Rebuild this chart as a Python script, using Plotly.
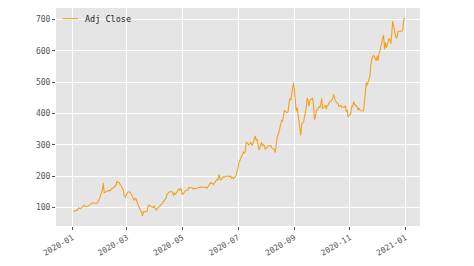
import plotly.graph_objects as go
import pandas as pd

# Trading days per month (2020) and Adj Close values
month_days = {
    1: [2, 3, 6, 7, 8, 9, 10, 13, 14, 15, 16, 17, 21, 22, 23, 24, 27, 28, 29, 30, 31],
    2: [3, 4, 5, 6, 7, 10, 11, 12, 13, 14, 18, 19, 20, 21, 24, 25, 26, 27, 28],
    3: [2, 3, 4, 5, 6, 9, 10, 11, 12, 13, 16, 17, 18, 19, 20, 23, 24, 25, 26, 27, 30, 31],
    4: [1, 2, 3, 6, 7, 8, 9, 13, 14, 15, 16, 17, 20, 21, 22, 23, 24, 27, 28, 29, 30],
    5: [1, 4, 5, 6, 7, 8, 11, 12, 13, 14, 15, 18, 19, 20, 21, 22, 26, 27, 28, 29],
    6: [1, 2, 3, 4, 5, 8, 9, 10, 11, 12, 15, 16, 17, 18, 19, 22, 23, 24, 25, 26, 29, 30],
    7: [1, 2, 6, 7, 8, 9, 10, 13, 14, 15, 16, 17, 20, 21, 22, 23, 24, 27, 28, 29, 30, 31],
    8: [3, 4, 5, 6, 7, 10, 11, 12, 13, 14, 17, 18, 19, 20, 21, 24, 25, 26, 27, 28, 31],
    9: [1, 2, 3, 4, 8, 9, 10, 11, 14, 15, 16, 17, 18, 21, 22, 23, 24, 25, 28, 29, 30],
    10: [1, 2, 5, 6, 7, 8, 9, 12, 13, 14, 15, 16, 19, 20, 21, 22, 23, 26, 27, 28, 29, 30],
    11: [2, 3, 4, 5, 6, 9, 10, 11, 12, 13, 16, 17, 18, 19, 20, 23, 24, 25, 27, 30],
    12: [1, 2, 3, 4, 7, 8, 9, 10, 11, 14, 15, 16, 17, 18, 21, 22, 23, 24, 28, 29, 30, 31],
}

month_values = {
    1: [86.05, 88.60, 90.31, 93.81, 98.43, 96.27, 95.63, 104.97, 107.58, 103.70, 102.70, 102.10,
        109.44, 113.91, 114.44, 112.96, 111.60, 113.38, 116.20, 128.16, 130.11],
    2: [156.00, 177.41, 146.94, 149.79, 149.61, 154.26, 154.88, 153.46, 160.80, 160.01, 171.68,
        183.48, 179.88, 180.20, 166.76, 159.98, 155.76, 135.80, 133.60],
    3: [148.72, 149.10, 149.90, 144.91, 140.70, 121.60, 129.07, 126.85, 112.11, 109.32, 89.01,
        86.04, 72.24, 85.53, 85.51, 86.86, 101.00, 107.85, 105.63, 102.87, 100.43, 104.80],
    4: [96.31, 90.89, 96.00, 103.25, 109.09, 109.77, 114.60, 130.19, 141.98, 145.97, 149.04,
        150.78, 149.27, 137.34, 146.42, 141.13, 145.03, 159.75, 153.82, 160.10, 156.38],
    5: [140.26, 152.24, 153.64, 156.52, 156.01, 163.88, 162.26, 161.88, 158.19, 160.67, 159.83,
        162.73, 161.60, 163.11, 165.52, 163.38, 163.77, 164.05, 161.16, 167.00],
    6: [179.62, 176.31, 176.59, 172.88, 177.13, 189.98, 188.13, 205.01, 194.57, 187.06, 198.18,
        196.43, 198.36, 200.79, 200.18, 198.86, 200.36, 192.17, 197.20, 191.95, 201.87, 215.96],
    7: [223.93, 241.73, 274.32, 277.97, 273.18, 278.86, 308.93, 299.41, 303.36, 309.20, 300.13,
        300.17, 328.60, 313.67, 318.47, 302.61, 283.40, 307.92, 295.30, 299.82, 297.50, 286.15],
    8: [297.00, 297.40, 297.00, 297.92, 290.54, 283.71, 274.88, 310.95, 324.20, 330.14, 367.13,
        377.42, 375.71, 400.37, 409.00, 402.84, 404.67, 430.63, 447.75, 442.68, 498.32],
    9: [475.05, 447.37, 407.00, 418.32, 330.21, 366.28, 371.34, 372.72, 419.62, 449.76, 441.76,
        423.43, 442.15, 449.39, 424.23, 380.36, 387.79, 407.34, 421.20, 419.07, 429.01],
    10: [448.16, 415.09, 425.68, 413.98, 425.30, 425.92, 434.00, 442.30, 446.65, 461.30, 448.88,
         439.67, 430.83, 421.94, 422.64, 425.79, 420.63, 420.28, 424.68, 406.02, 410.83, 388.04],
    11: [400.51, 423.90, 420.98, 438.09, 429.95, 421.26, 410.36, 417.13, 411.76, 408.50, 408.09,
         441.61, 486.64, 499.27, 489.61, 521.85, 555.38, 574.00, 585.76, 567.60],
    12: [584.76, 568.82, 593.38, 599.04, 641.76, 649.88, 604.48, 627.07, 609.99, 639.83, 633.25,
         622.77, 655.90, 695.00, 649.86, 640.34, 645.98, 661.77, 663.69, 665.99, 694.78, 705.67],
}

dates = []
adj_close = []
for m in range(1, 13):
    assert len(month_days[m]) == len(month_values[m]), m
    for d, v in zip(month_days[m], month_values[m]):
        dates.append(pd.Timestamp(2020, m, d))
        adj_close.append(v)

series_name = "Adj Close"
font_family = "DejaVu Sans Mono"
line_color = "#F5A01E"

fig = go.Figure()
fig.add_trace(go.Scatter(
    x=dates, y=adj_close, mode="lines", name=series_name,
    line=dict(color=line_color, width=1.1),
    showlegend=False,
))

# Legend key (matplotlib-style, inside upper-left of the axes)
legend_y = 0.951
fig.add_shape(type="line", xref="paper", yref="paper",
              x0=0.0175, x1=0.0605, y0=legend_y, y1=legend_y,
              line=dict(color=line_color, width=1.1))
fig.add_annotation(text=series_name, xref="paper", yref="paper",
                   x=0.0745, y=legend_y, xanchor="left", yanchor="middle",
                   showarrow=False,
                   font=dict(family=font_family, size=8.5, color="#1a1a1a"))

fig.update_layout(
    width=474, height=266,
    margin=dict(l=56, r=54, t=8, b=35),
    paper_bgcolor="white",
    plot_bgcolor="#E5E5E5",
    font=dict(family=font_family, size=8, color="#555555"),
    showlegend=False,
    xaxis=dict(
        type="date",
        range=["2019-12-14", "2021-01-17"],
        tick0="2020-01-01", dtick="M2", tickformat="%Y-%m",
        tickangle=-30,
        showgrid=True, gridcolor="white", gridwidth=1,
        zeroline=False, showline=False,
        ticks="outside", ticklen=3, tickcolor="#555555",
        tickfont=dict(family=font_family, size=8, color="#555555"),
    ),
    yaxis=dict(
        range=[40.5, 737],
        tickvals=[100, 200, 300, 400, 500, 600, 700],
        showgrid=True, gridcolor="white", gridwidth=1,
        zeroline=False, showline=False,
        ticks="outside", ticklen=3, tickcolor="#555555",
        tickfont=dict(family=font_family, size=8, color="#555555"),
    ),
)

fig.write_html("out.html")
